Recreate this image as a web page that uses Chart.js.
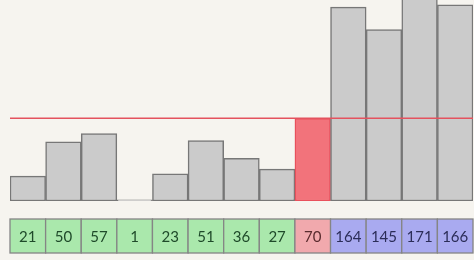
<!DOCTYPE html>
<html><head><meta charset="utf-8">
<script src="https://cdn.jsdelivr.net/npm/chart.js@4/dist/chart.umd.min.js"></script>
<style>html,body{margin:0;padding:0;background:#f6f4ef;}canvas{display:block;}</style>
</head><body>
<div style="width:474px;height:260px"><canvas id="c" width="474" height="260"></canvas></div>
<script>
const categories = ["0","1","2","3","4","5","6","7","8","9","10","11","12"];
const values = [21, 50, 57, 1, 23, 51, 36, 27, 70, 164, 145, 171, 166];
const pivotValue = 70;
const pivotIndex = 8;

const barFill = values.map((v,i)=> i===pivotIndex ? '#f2737b' : '#cbcbcb');
const barBorder = values.map((v,i)=> i===pivotIndex ? '#e8505c' : '#777777');

const pivotLine = {
  id:'pivotLine',
  afterDatasetsDraw(chart){
    const {ctx, chartArea, scales} = chart;
    const y = scales.y.getPixelForValue(pivotValue);
    ctx.save();
    ctx.strokeStyle = '#e4525e';
    ctx.lineWidth = 1.3;
    ctx.beginPath();
    ctx.moveTo(chartArea.left, y);
    ctx.lineTo(chartArea.right, y);
    ctx.stroke();
    ctx.restore();
  }
};

const cellTable = {
  id:'cellTable',
  afterDraw(chart){
    const {ctx, scales} = chart;
    const x = scales.x;
    const top = 219, bottom = 253;
    ctx.save();
    values.forEach((v,i)=>{
      const c = x.getPixelForValue(i);
      const half = (x.getPixelForValue(1) - x.getPixelForValue(0))/2;
      const l = c - half, r = c + half;
      let fill, txt;
      if (v < pivotValue) { fill = '#aae8ac'; txt = '#1f4a2a'; }
      else if (v === pivotValue) { fill = '#f1a9ad'; txt = '#5a2b2e'; }
      else { fill = '#a9aaf0'; txt = '#2b2d58'; }
      ctx.fillStyle = fill;
      ctx.fillRect(l, top, r-l, bottom-top);
      ctx.strokeStyle = '#858585';
      ctx.lineWidth = 1.3;
      ctx.strokeRect(l, top, r-l, bottom-top);
      ctx.fillStyle = txt;
      ctx.font = '15px Lato, "Noto Sans", sans-serif';
      ctx.textAlign = 'center';
      ctx.textBaseline = 'middle';
      ctx.fillText(String(v), c, (top+bottom)/2 + 1);
    });
    ctx.restore();
  }
};

new Chart(document.getElementById('c'), {
  type:'bar',
  data:{
    labels: categories,
    datasets:[{
      data: values,
      backgroundColor: barFill,
      borderColor: barBorder,
      borderWidth: 1.5,
      borderSkipped: false,
      categoryPercentage: 1,
      barPercentage: 1
    }]
  },
  options:{
    responsive:false,
    animation:false,
    layout:{padding:{left:10, right:1, top:0, bottom:59}},
    plugins:{legend:{display:false}, tooltip:{enabled:false}},
    scales:{
      x:{display:false},
      y:{display:false, min:0, max:170}
    }
  },
  plugins:[pivotLine, cellTable]
});
</script>
</body></html>
